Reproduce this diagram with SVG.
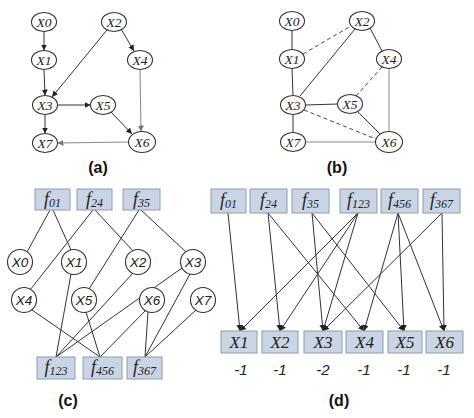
<svg xmlns="http://www.w3.org/2000/svg" width="474" height="418" viewBox="0 0 474 418">
<defs>
<marker id="ah" viewBox="0 0 10 10" refX="10" refY="5" markerWidth="6" markerHeight="6" markerUnits="userSpaceOnUse" orient="auto">
<path d="M0,0 L10,5 L0,10 z" fill="#222"/>
</marker>
<marker id="ahg" viewBox="0 0 10 10" refX="10" refY="5" markerWidth="6" markerHeight="6" markerUnits="userSpaceOnUse" orient="auto">
<path d="M0,0 L10,5 L0,10 z" fill="#777"/>
</marker>
</defs>
<style>
.n ellipse, .n circle { fill: #fff; stroke: #333; stroke-width: 1.1; }
.ts { font-family: "Liberation Serif", serif; font-style: italic; font-size: 13.5px; text-anchor: middle; fill: #222; }
.tc { font-family: "Liberation Sans", sans-serif; font-style: italic; font-size: 13.5px; text-anchor: middle; fill: #222; }
.fb { fill: #c9d5e5; stroke: #8e9cae; stroke-width: 1; }
.fl { font-family: "Liberation Serif", serif; font-style: italic; font-size: 18px; text-anchor: middle; fill: #222; }
.fs { font-size: 12px; }
.xl { font-family: "Liberation Serif", serif; font-style: italic; font-size: 17px; text-anchor: middle; fill: #222; }
.num { font-family: "Liberation Sans", sans-serif; font-style: italic; font-size: 15px; text-anchor: middle; fill: #222; }
.pl { font-family: "Liberation Sans", sans-serif; font-weight: bold; font-size: 16px; text-anchor: middle; fill: #111; }
.e { stroke: #333; stroke-width: 1; fill: none; }
.eg { stroke: #888; stroke-width: 1; fill: none; }
.ed { stroke: #444; stroke-width: 1; fill: none; stroke-dasharray: 4 3; }
.ea { stroke: #333; stroke-width: 1; fill: none; marker-end: url(#ah); }
.eag { stroke: #888; stroke-width: 1; fill: none; marker-end: url(#ahg); }
</style>

<!-- Panel (a) connectors -->
<g id="edges-a">
<line class="ea" x1="44" y1="31.5" x2="44" y2="50.5"/>
<line class="ea" x1="44" y1="69.5" x2="45" y2="95.5"/>
<line class="ea" x1="107" y1="30" x2="52" y2="97"/>
<line class="ea" x1="121" y1="29" x2="134" y2="51"/>
<line class="ea" x1="57.5" y1="105" x2="90.5" y2="105"/>
<line class="ea" x1="45" y1="114.5" x2="45" y2="133.5"/>
<line class="ea" x1="111" y1="112" x2="132" y2="134"/>
<line class="eag" x1="140" y1="69.5" x2="141" y2="131.5"/>
<line class="eag" x1="128.5" y1="142" x2="57.5" y2="143"/>
</g>
<g id="a-X0" class="n"><ellipse cx="44" cy="22" rx="12.5" ry="9.5"/><text class="ts" x="44" y="26.5">X0</text></g>
<g id="a-X1" class="n"><ellipse cx="44" cy="60" rx="12.5" ry="9.5"/><text class="ts" x="44" y="64.5">X1</text></g>
<g id="a-X2" class="n"><ellipse cx="114" cy="22" rx="12.5" ry="9.5"/><text class="ts" x="114" y="26.5">X2</text></g>
<g id="a-X3" class="n"><ellipse cx="45" cy="105" rx="12.5" ry="9.5"/><text class="ts" x="45" y="109.5">X3</text></g>
<g id="a-X4" class="n"><ellipse cx="140" cy="60" rx="12.5" ry="9.5"/><text class="ts" x="140" y="64.5">X4</text></g>
<g id="a-X5" class="n"><ellipse cx="103" cy="105" rx="12.5" ry="9.5"/><text class="ts" x="103" y="109.5">X5</text></g>
<g id="a-X6" class="n"><ellipse cx="142" cy="142" rx="13.5" ry="10.5"/><text class="ts" x="142" y="146.5">X6</text></g>
<g id="a-X7" class="n"><ellipse cx="45" cy="143" rx="12.5" ry="9.5"/><text class="ts" x="45" y="147.5">X7</text></g>
<text class="pl" x="98" y="173">(a)</text>

<!-- Panel (b) connectors -->
<g id="edges-b">
<line class="e" x1="292" y1="30.5" x2="292" y2="49.5"/>
<line class="ed" x1="303" y1="54" x2="351" y2="26"/>
<line class="e" x1="355" y1="29" x2="300" y2="96"/>
<line class="e" x1="370" y1="28" x2="382" y2="51"/>
<line class="e" x1="292" y1="68.5" x2="293" y2="95.5"/>
<line class="e" x1="305.5" y1="105" x2="337.5" y2="104"/>
<line class="ed" x1="382" y1="67" x2="356" y2="96"/>
<line class="eg" x1="389" y1="68.5" x2="389" y2="131.5"/>
<line class="e" x1="358" y1="112" x2="380" y2="134"/>
<line class="ed" x1="304" y1="110" x2="376" y2="139"/>
<line class="e" x1="293" y1="114.5" x2="293" y2="132.5"/>
<line class="eg" x1="305.5" y1="142" x2="375.5" y2="142"/>
</g>
<g id="b-X0" class="n"><ellipse cx="292" cy="21" rx="12.5" ry="9.5"/><text class="ts" x="292" y="25.5">X0</text></g>
<g id="b-X1" class="n"><ellipse cx="292" cy="59" rx="12.5" ry="9.5"/><text class="ts" x="292" y="63.5">X1</text></g>
<g id="b-X2" class="n"><ellipse cx="362" cy="21" rx="12.5" ry="9.5"/><text class="ts" x="362" y="25.5">X2</text></g>
<g id="b-X3" class="n"><ellipse cx="293" cy="105" rx="12.5" ry="9.5"/><text class="ts" x="293" y="109.5">X3</text></g>
<g id="b-X4" class="n"><ellipse cx="389" cy="59" rx="12.5" ry="9.5"/><text class="ts" x="389" y="63.5">X4</text></g>
<g id="b-X5" class="n"><ellipse cx="350" cy="104" rx="12.5" ry="9.5"/><text class="ts" x="350" y="108.5">X5</text></g>
<g id="b-X6" class="n"><ellipse cx="389" cy="142" rx="13.5" ry="10.5"/><text class="ts" x="389" y="146.5">X6</text></g>
<g id="b-X7" class="n"><ellipse cx="293" cy="142" rx="12.5" ry="9.5"/><text class="ts" x="293" y="146.5">X7</text></g>
<text class="pl" x="337" y="173">(b)</text>

<!-- Panel (c) connectors -->
<g id="edges-c">
<line class="e" x1="50" y1="210" x2="27" y2="252"/>
<line class="e" x1="53" y1="210" x2="71" y2="250"/>
<line class="e" x1="93" y1="210" x2="30" y2="290"/>
<line class="e" x1="95" y1="210" x2="133" y2="251"/>
<line class="e" x1="139" y1="210" x2="89" y2="289"/>
<line class="e" x1="141" y1="210" x2="186" y2="252"/>
<line class="e" x1="71" y1="274" x2="56" y2="357"/>
<line class="e" x1="133" y1="273" x2="56" y2="357"/>
<line class="e" x1="182" y1="268" x2="56" y2="357"/>
<line class="e" x1="32" y1="310" x2="100" y2="357"/>
<line class="e" x1="86" y1="312" x2="100" y2="357"/>
<line class="e" x1="146" y1="310" x2="100" y2="357"/>
<line class="e" x1="148" y1="312" x2="145" y2="357"/>
<line class="e" x1="190" y1="274" x2="145" y2="357"/>
<line class="e" x1="196" y1="310" x2="145" y2="357"/>
</g>
<g id="c-f01"><rect class="fb" x="35" y="189" width="35" height="21"/><text class="fl" x="52.5" y="205">f<tspan class="fs" dy="2">01</tspan></text></g>
<g id="c-f24"><rect class="fb" x="77" y="189" width="35" height="21"/><text class="fl" x="94.5" y="205">f<tspan class="fs" dy="2">24</tspan></text></g>
<g id="c-f35"><rect class="fb" x="123" y="189" width="37" height="21"/><text class="fl" x="141.5" y="205">f<tspan class="fs" dy="2">35</tspan></text></g>
<g id="c-X0" class="n"><circle cx="20" cy="262" r="12.5"/><text class="tc" x="20" y="266.5">X0</text></g>
<g id="c-X1" class="n"><circle cx="74" cy="262" r="12.5"/><text class="tc" x="74" y="266.5">X1</text></g>
<g id="c-X2" class="n"><circle cx="138" cy="262" r="12.5"/><text class="tc" x="138" y="266.5">X2</text></g>
<g id="c-X3" class="n"><circle cx="193" cy="262" r="12.5"/><text class="tc" x="193" y="266.5">X3</text></g>
<g id="c-X4" class="n"><circle cx="24" cy="300" r="12.5"/><text class="tc" x="24" y="304.5">X4</text></g>
<g id="c-X5" class="n"><circle cx="84" cy="300" r="12.5"/><text class="tc" x="84" y="304.5">X5</text></g>
<g id="c-X6" class="n"><circle cx="152" cy="300" r="12.5"/><text class="tc" x="152" y="304.5">X6</text></g>
<g id="c-X7" class="n"><circle cx="203" cy="300" r="12.5"/><text class="tc" x="203" y="304.5">X7</text></g>
<g id="c-f123"><rect class="fb" x="37" y="357" width="38" height="22"/><text class="fl" x="56" y="373">f<tspan class="fs" dy="2">123</tspan></text></g>
<g id="c-f456"><rect class="fb" x="83" y="357" width="39" height="22"/><text class="fl" x="102.5" y="373">f<tspan class="fs" dy="2">456</tspan></text></g>
<g id="c-f367"><rect class="fb" x="127" y="357" width="35" height="22"/><text class="fl" x="144.5" y="373">f<tspan class="fs" dy="2">367</tspan></text></g>
<text class="pl" x="68" y="406">(c)</text>

<!-- Panel (d) connectors -->
<g id="edges-d">
<line class="ea" x1="228" y1="213" x2="240" y2="331"/>
<line class="ea" x1="268" y1="213" x2="280" y2="331"/>
<line class="ea" x1="268" y1="213" x2="364" y2="331"/>
<line class="ea" x1="312" y1="213" x2="323" y2="331"/>
<line class="ea" x1="312" y1="213" x2="404" y2="331"/>
<line class="ea" x1="358" y1="213" x2="240" y2="331"/>
<line class="ea" x1="358" y1="213" x2="280" y2="331"/>
<line class="ea" x1="358" y1="213" x2="323" y2="331"/>
<line class="ea" x1="398" y1="213" x2="364" y2="331"/>
<line class="ea" x1="398" y1="213" x2="404" y2="331"/>
<line class="ea" x1="398" y1="213" x2="444" y2="331"/>
<line class="ea" x1="442" y1="213" x2="323" y2="331"/>
<line class="ea" x1="442" y1="213" x2="444" y2="331"/>
</g>
<g id="d-f01"><rect class="fb" x="211" y="189" width="35" height="24"/><text class="fl" x="228.5" y="206">f<tspan class="fs" dy="2">01</tspan></text></g>
<g id="d-f24"><rect class="fb" x="250" y="189" width="37" height="24"/><text class="fl" x="268.5" y="206">f<tspan class="fs" dy="2">24</tspan></text></g>
<g id="d-f35"><rect class="fb" x="292" y="189" width="37" height="24"/><text class="fl" x="310.5" y="206">f<tspan class="fs" dy="2">35</tspan></text></g>
<g id="d-f123"><rect class="fb" x="340" y="189" width="37" height="24"/><text class="fl" x="358.5" y="206">f<tspan class="fs" dy="2">123</tspan></text></g>
<g id="d-f456"><rect class="fb" x="381" y="189" width="37" height="24"/><text class="fl" x="399.5" y="206">f<tspan class="fs" dy="2">456</tspan></text></g>
<g id="d-f367"><rect class="fb" x="423" y="189" width="37" height="24"/><text class="fl" x="441.5" y="206">f<tspan class="fs" dy="2">367</tspan></text></g>
<g id="d-X1"><rect class="fb" x="221" y="331" width="36" height="22"/><text class="xl" x="239" y="348">X1</text></g>
<g id="d-X2"><rect class="fb" x="262" y="331" width="36" height="22"/><text class="xl" x="280" y="348">X2</text></g>
<g id="d-X3"><rect class="fb" x="304" y="331" width="38" height="22"/><text class="xl" x="323" y="348">X3</text></g>
<g id="d-X4"><rect class="fb" x="346" y="331" width="37" height="22"/><text class="xl" x="364.5" y="348">X4</text></g>
<g id="d-X5"><rect class="fb" x="388" y="331" width="34" height="22"/><text class="xl" x="405" y="348">X5</text></g>
<g id="d-X6"><rect class="fb" x="426" y="331" width="37" height="22"/><text class="xl" x="444.5" y="348">X6</text></g>
<text class="num" x="241" y="375">-1</text>
<text class="num" x="280" y="375">-1</text>
<text class="num" x="323" y="375">-2</text>
<text class="num" x="364" y="375">-1</text>
<text class="num" x="404" y="375">-1</text>
<text class="num" x="444" y="375">-1</text>
<text class="pl" x="339" y="406">(d)</text>
</svg>
